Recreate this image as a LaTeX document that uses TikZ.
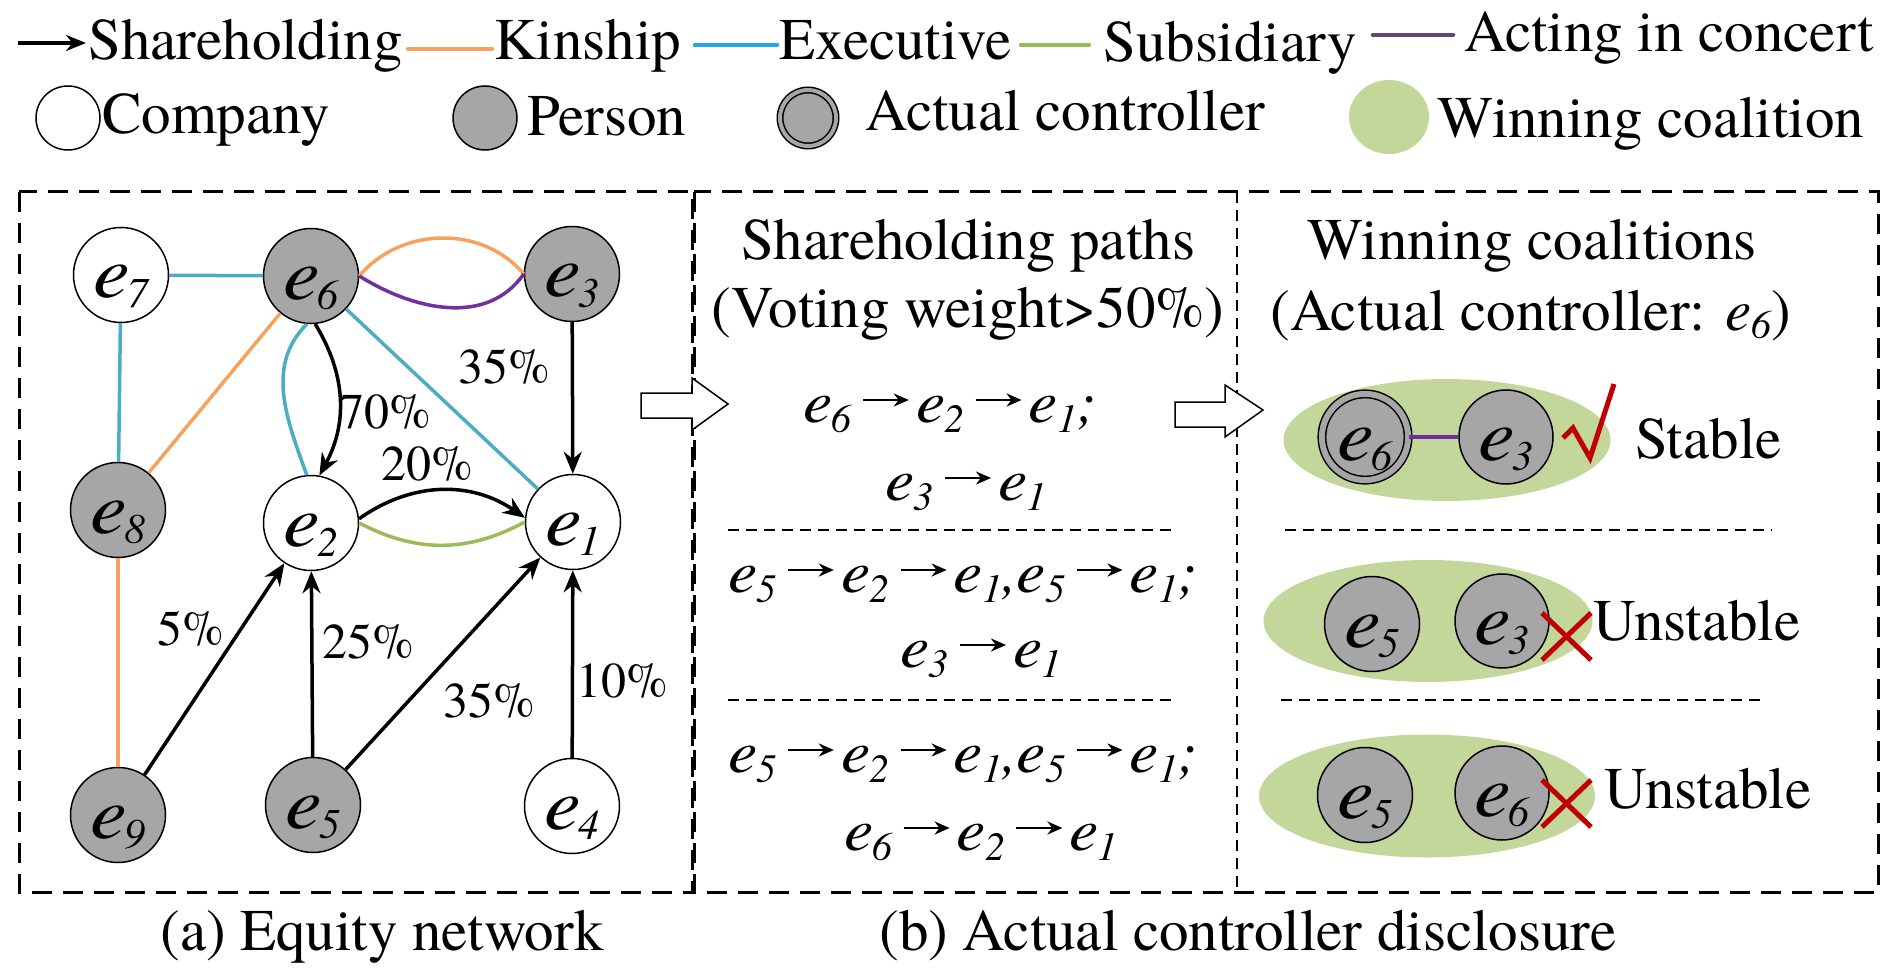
\documentclass[tikz,border=0pt]{standalone}
\usepackage{fontspec}
\setmainfont{texgyretermes}[Extension=.otf, UprightFont=*-regular, ItalicFont=*-italic, BoldFont=*-bold, BoldItalicFont=*-bolditalic]
\usepackage{graphicx}
\usetikzlibrary{arrows.meta,shapes.geometric}
\definecolor{kin}{HTML}{F7A15E}
\definecolor{exe}{HTML}{4BACC6}
\definecolor{exeL}{HTML}{1FA8E4}
\definecolor{subs}{HTML}{9BBB59}
\definecolor{actc}{HTML}{7030A0}
\definecolor{actL}{HTML}{5B4A78}
\definecolor{pgray}{HTML}{A6A6A6}
\definecolor{win}{HTML}{C4D79B}
\definecolor{markred}{HTML}{C00000}
\newcommand{\nodeE}[1]{\scalebox{1.12}[1]{\fontsize{74}{74}\selectfont\itshape e}\kern-2pt\raisebox{-10pt}{\fontsize{42}{42}\selectfont\itshape #1}}
\newcommand{\pathE}[1]{\scalebox{1.1}[1]{\fontsize{60}{60}\selectfont\itshape e}\kern-1pt\raisebox{-10pt}{\fontsize{40}{40}\selectfont\itshape #1}}
\newcommand{\parr}{\hspace{10pt}\tikz[baseline=0pt,x=1pt,y=1pt]\draw[line width=2.5pt,-{Stealth[length=15pt,width=13pt]}] (0,22)--(46,22);\hspace{6pt}}
\begin{document}
\begin{tikzpicture}[x=1pt,y=-1pt,
  txt/.style={inner sep=0pt, font=\fontsize{59}{65}\selectfont},
  pct/.style={inner sep=0pt, anchor=base, font=\fontsize{50}{55}\selectfont},
  ent/.style={circle, draw, line width=1.5pt, minimum size=95pt, inner sep=0pt, text height=56pt, text depth=10pt},
  comp/.style={ent, fill=white},
  pers/.style={ent, fill=pgray},
  ctrl/.style={pers, double=pgray, double distance=6pt, minimum size=86pt},
  lcirc/.style={circle, draw, line width=1.5pt, minimum size=64pt, inner sep=0pt},
  ew/.style={line width=3.5pt},
  sh/.style={line width=3.5pt, -{Stealth[length=22pt,width=18pt]}},
  leg/.style={line width=4.5pt, line cap=round},
  box/.style={line width=3pt, dash pattern=on 20pt off 11pt},
  thin/.style={line width=1.5pt, dash pattern=on 11pt off 7pt},
  blk/.style={draw, line width=1.5pt, fill=white},
  wc/.style={ellipse, fill=win, inner sep=0pt},
  mk/.style={markred, line width=5pt}
]
\useasboundingbox (0,0) rectangle (1892,976);

% ---------- legend ----------
\coordinate (la1) at (18,43); \coordinate (la2) at (86,43);
\draw[line width=3.5pt,-{Stealth[length=20pt,width=16pt]}] (la1) -- (la2);
\node[txt, anchor=base west] (t1) at (88,60) {Shareholding};
\coordinate (lk1) at (408,49); \coordinate (lk2) at (492,49);
\draw[leg, kin] (lk1) -- (lk2);
\node[txt, anchor=base west] (t2) at (494,60) {Kinship};
\coordinate (le1) at (695,45); \coordinate (le2) at (777,45);
\draw[leg, exeL] (le1) -- (le2);
\node[txt, anchor=base west] (t3) at (779,60) {Executive};
\coordinate (ls1) at (1021,45); \coordinate (ls2) at (1089,45);
\draw[leg, subs] (ls1) -- (ls2);
\node[txt, anchor=base west] (t4) at (1103,62) {Subsidiary};
\coordinate (lc1) at (1373,35); \coordinate (lc2) at (1453,35);
\draw[leg, actL] (lc1) -- (lc2);
\node[txt, anchor=base west] (t5) at (1464,52) {Acting in concert};

\node[lcirc, fill=white] (lgc) at (68,118) {};
\node[txt, anchor=base west] (t6) at (102,134) {Company};
\node[lcirc, fill=pgray] (lgp) at (485,118) {};
\node[txt, anchor=base west] (t7) at (527,136) {Person};
\node[lcirc, fill=pgray, double=pgray, double distance=4pt, minimum size=56pt] (lga) at (808,118) {};
\node[txt, anchor=base west] (t8) at (865,131) {Actual controller};
\node[wc, minimum width=80pt, minimum height=74pt] (lgw) at (1389,117) {};
\node[txt, anchor=base west] (t9) at (1437,138) {Winning coalition};

% ---------- panel boxes ----------
\draw[box] (19,192) rectangle (692,892);
\draw[box] (694,192) rectangle (1878,892);
\draw[thin] (1237,192) -- (1237,892);

% ---------- panel (a) ----------
\node[comp] (e7) at (121,275) {\nodeE{7}};
\node[pers] (e6) at (311,276) {\nodeE{6}};
\node[pers] (e3) at (572,274) {\nodeE{3}};
\node[pers] (e8) at (118,510) {\nodeE{8}};
\node[comp] (e2) at (311,523) {\nodeE{2}};
\node[comp] (e1) at (573,522) {\nodeE{1}};
\node[pers] (e9) at (118,815) {\nodeE{9}};
\node[pers] (e5) at (313,805) {\nodeE{5}};
\node[comp] (e4) at (572,806) {\nodeE{4}};

\draw[ew, exe] (e7) -- (e6);
\draw[ew, exe] (e7) -- (e8);
\draw[ew, kin] (e6) -- (e8);
\draw[ew, exe] (e6) -- (e1);
\draw[ew, kin] (e8) -- (e9);
\draw[ew, kin] (e6.east) to[out=50, in=130] (e3.west);
\draw[ew, actc] (e6.east) to[out=-32, in=-125] (e3.west);
\draw[ew, exe] (e6.265) to[out=225, in=110] (e2.95);
\draw[sh] (e6.275) to[bend left=30] (e2.80);
\draw[sh] (e2.5) to[bend left=35] (e1.175);
\draw[ew, subs] (e2.east) to[bend right=28] (e1.west);
\draw[sh] (e3) -- (e1);
\draw[sh] (e9) -- (e2);
\draw[sh] (e5) -- (e2);
\draw[sh] (e5) -- (e1);
\draw[sh] (e4) -- (e1);

\node[pct] (p35a) at (504,383) {35\%};
\node[pct] (p70) at (385,428) {70\%};
\node[pct] (p20) at (427,480) {20\%};
\node[pct] (p5) at (191,645) {5\%};
\node[pct] (p25) at (368,658) {25\%};
\node[pct] (p35b) at (489,717) {35\%};
\node[pct] (p10) at (622,697) {10\%};

\node[txt, anchor=base] (capa) at (382,950) {(a) Equity network};

% ---------- block arrows ----------
\draw[blk] (641,393) -- (692,393) -- (692,378) -- (728,404) -- (692,430) -- (692,418) -- (641,418) -- cycle;
\draw[blk] (1175,402) -- (1225,402) -- (1225,385) -- (1263,410) -- (1225,437) -- (1225,427) -- (1175,427) -- cycle;

% ---------- panel (b) middle ----------
\node[txt, anchor=base] (h1) at (968,260) {Shareholding paths};
\node[txt, anchor=base] (h2) at (968,327) {(Voting weight>50\%)};
\node[txt, anchor=base] (q1) at (950,422) {\pathE{6}\parr\pathE{2}\parr\pathE{1}\textit{;}};
\node[txt, anchor=base] (q2) at (966,500) {\pathE{3}\parr\pathE{1}};
\draw[thin] (728,530) -- (1171,530);
\node[txt, anchor=base] (q3) at (963,592) {\pathE{5}\parr\pathE{2}\parr\pathE{1}\textit{,}\pathE{5}\parr\pathE{1}\textit{;}};
\node[txt, anchor=base] (q4) at (981,667) {\pathE{3}\parr\pathE{1}};
\draw[thin] (728,700) -- (1171,700);
\node[txt, anchor=base] (q5) at (963,772) {\pathE{5}\parr\pathE{2}\parr\pathE{1}\textit{,}\pathE{5}\parr\pathE{1}\textit{;}};
\node[txt, anchor=base] (q6) at (981,850) {\pathE{6}\parr\pathE{2}\parr\pathE{1}};

% ---------- panel (b) right ----------
\node[txt, anchor=base] (h3) at (1532,260) {Winning coalitions};
\node[txt, anchor=base] (h4) at (1531,330) {(Actual controller: \textit{e}\raisebox{-9pt}{\fontsize{40}{40}\selectfont\itshape 6})};

\node[wc, minimum width=327pt, minimum height=122pt] (w1) at (1447,440) {};
\node[ctrl] (c1a) at (1365,437) {\nodeE{6}};
\node[pers, minimum size=94pt] (c1b) at (1506,437) {\nodeE{3}};
\draw[ew, actc] (c1a) -- (c1b);
\draw[mk, line join=miter] (1563,438) -- (1573,428) -- (1590,458) -- (1614,384);
\node[txt, anchor=base west] (s1) at (1635,458) {Stable};
\draw[thin] (1285,530) -- (1772,530);

\node[wc, minimum width=329pt, minimum height=122pt] (w2) at (1428,621) {};
\node[pers] (c2a) at (1372,624) {\nodeE{5}};
\node[pers, minimum size=94pt] (c2b) at (1502,621) {\nodeE{3}};
\draw[mk] (1542,613) -- (1591,660);
\draw[mk] (1542,660) -- (1591,613);
\node[txt, anchor=base west] (s2) at (1593,640) {Unstable};
\draw[thin] (1281,700) -- (1766,700);

\node[wc, minimum width=336pt, minimum height=123pt] (w3) at (1427,796) {};
\node[pers] (c3a) at (1365,795) {\nodeE{5}};
\node[pers, minimum size=94pt] (c3b) at (1502,793) {\nodeE{6}};
\draw[mk] (1542,780) -- (1591,827);
\draw[mk] (1542,827) -- (1591,780);
\node[txt, anchor=base west] (s3) at (1604,808) {Unstable};

\node[txt, anchor=base] (capb) at (1248,950) {(b) Actual controller disclosure};
\end{tikzpicture}
\end{document}
